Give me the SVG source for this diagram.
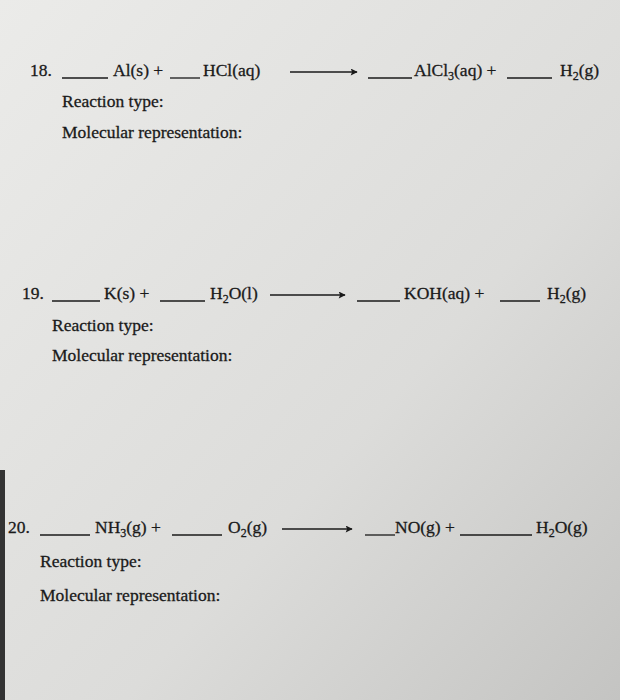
<svg xmlns="http://www.w3.org/2000/svg" width="620" height="700" viewBox="0 0 620 700">
<defs>
<linearGradient id="bg" x1="0" y1="0" x2="1" y2="1">
<stop offset="0" stop-color="#ebebe9"/><stop offset="0.6" stop-color="#dcdcda"/><stop offset="1" stop-color="#c4c4c2"/>
</linearGradient>
<marker id="ah" viewBox="0 0 10 10" refX="9" refY="5" markerWidth="12" markerHeight="7" orient="auto" markerUnits="userSpaceOnUse"><path d="M0,0L10,5L0,10L2,5z" fill="#1a1a1a"/></marker>
</defs>
<style>
text{font-family:"Liberation Serif","Times New Roman",serif;font-size:17.5px;fill:#1a1a1a;stroke:#1a1a1a;stroke-width:0.3}
.b{stroke:#1a1a1a;stroke-width:1.3}
.a{stroke:#1a1a1a;stroke-width:1.6;marker-end:url(#ah)}
</style>
<rect width="620" height="700" fill="url(#bg)"/>
<rect x="0" y="470" width="5" height="230" fill="#333"/>
<g id="q18">
<text x="30" y="76">18.</text>
<line class="b" x1="62" y1="78" x2="108" y2="78"/>
<text x="113" y="76">Al(s) +</text>
<line class="b" x1="170" y1="78" x2="200" y2="78"/>
<text x="203" y="76">HCl(aq)</text>
<line class="a" x1="290" y1="72" x2="357" y2="72"/>
<line class="b" x1="368" y1="78" x2="412" y2="78"/>
<text x="414" y="76">AlCl<tspan font-size="12" dy="4">3</tspan><tspan dy="-4">(aq) +</tspan></text>
<line class="b" x1="507" y1="78" x2="552" y2="78"/>
<text x="560" y="76">H<tspan font-size="12" dy="4">2</tspan><tspan dy="-4">(g)</tspan></text>
<text x="62" y="107">Reaction type:</text>
<text x="62" y="138">Molecular representation:</text>
</g>
<g id="q19">
<text x="22" y="299">19.</text>
<line class="b" x1="52" y1="301" x2="100" y2="301"/>
<text x="104" y="299">K(s) +</text>
<line class="b" x1="160" y1="301" x2="205" y2="301"/>
<text x="210" y="299">H<tspan font-size="12" dy="4">2</tspan><tspan dy="-4">O(l)</tspan></text>
<line class="a" x1="270" y1="295" x2="345" y2="295"/>
<line class="b" x1="357" y1="301" x2="400" y2="301"/>
<text x="404" y="299">KOH(aq) +</text>
<line class="b" x1="500" y1="301" x2="540" y2="301"/>
<text x="547" y="299">H<tspan font-size="12" dy="4">2</tspan><tspan dy="-4">(g)</tspan></text>
<text x="52" y="331">Reaction type:</text>
<text x="52" y="361">Molecular representation:</text>
</g>
<g id="q20">
<text x="8" y="533">20.</text>
<line class="b" x1="40" y1="535" x2="90" y2="535"/>
<text x="95" y="533">NH<tspan font-size="12" dy="4">3</tspan><tspan dy="-4">(g) +</tspan></text>
<line class="b" x1="172" y1="535" x2="222" y2="535"/>
<text x="228" y="533">O<tspan font-size="12" dy="4">2</tspan><tspan dy="-4">(g)</tspan></text>
<line class="a" x1="282" y1="529" x2="352" y2="529"/>
<line class="b" x1="365" y1="535" x2="395" y2="535"/>
<text x="395" y="533">NO(g) +</text>
<line class="b" x1="460" y1="535" x2="532" y2="535"/>
<text x="536" y="533">H<tspan font-size="12" dy="4">2</tspan><tspan dy="-4">O(g)</tspan></text>
<text x="40" y="567">Reaction type:</text>
<text x="40" y="601">Molecular representation:</text>
</g>
</svg>
